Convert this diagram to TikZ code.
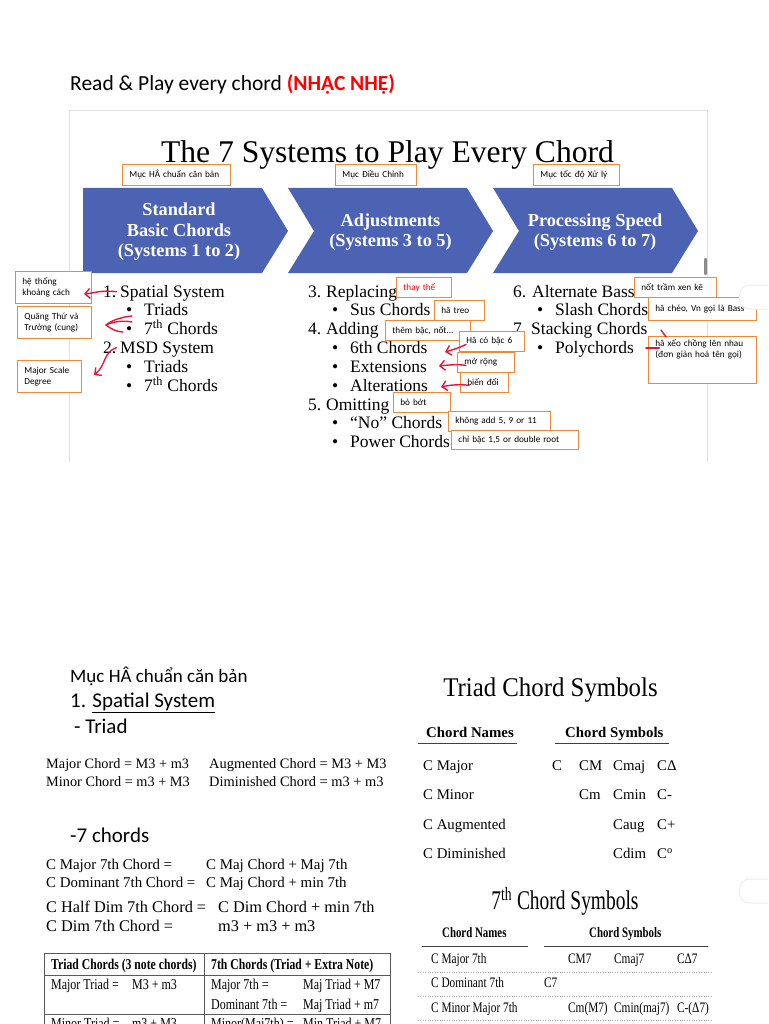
\documentclass[tikz,border=0pt]{standalone}
\usepackage{fontspec}
\setmainfont{Liberation Serif}
\newfontfamily\noteface{Carlito}
\usetikzlibrary{arrows.meta}
\definecolor{chevronblue}{HTML}{4C62B2}
\definecolor{noteorange}{HTML}{F0883A}
\definecolor{penred}{HTML}{E8173A}
\tikzset{
    chevron/.style={fill=chevronblue},
    chevrontext/.style={font=\bfseries\fontsize{18.3}{20.5}\selectfont, text=white, align=center, inner sep=0pt},
    notebox/.style 2 args={draw=noteorange, fill=white, line width=0.8pt, anchor=north west,
        minimum width=#1pt, minimum height=#2pt, text width=#1pt-14pt, inner xsep=7pt, inner ysep=0pt,
        align=left, font=\noteface\fontsize{9.2}{11.5}\selectfont},
    heading/.style={font=\noteface\fontsize{#1}{24}\selectfont, anchor=mid west, inner sep=0pt, yshift=-4pt},
    heading/.default=21,
    slideitem/.style={font=\fontsize{17.5}{20}\selectfont, anchor=mid west, inner sep=0pt, yshift=-4pt},
    formula/.style={font=\fontsize{#1}{17}\selectfont, anchor=mid west, inner sep=0pt, yshift=-3pt},
    cellbold/.style={font=\bfseries\fontsize{15}{17}\selectfont, anchor=mid west, inner sep=0pt, yshift=-2pt, xscale=.78, transform shape},
    cell/.style={font=\fontsize{15}{17}\selectfont, anchor=mid west, inner sep=0pt, yshift=-2pt, xscale=.8, transform shape},
    namebold/.style={font=\bfseries\fontsize{14.5}{17}\selectfont, anchor=mid west, inner sep=0pt, yshift=-2pt, xscale=.75, transform shape},
    namecell/.style={font=\fontsize{14.5}{17}\selectfont, anchor=mid west, inner sep=0pt, yshift=-2pt, xscale=.78, transform shape},
    symbolhead/.style={font=\bfseries\fontsize{14.8}{18}\selectfont, anchor=mid west, inner sep=0pt, yshift=-3pt},
    symbolcell/.style={font=\fontsize{14.8}{18}\selectfont, anchor=mid west, inner sep=0pt, yshift=-3pt},
    penarrow/.style={draw=penred, line width=1.4pt, line cap=round, -{Straight Barb[length=5pt,width=10pt]}},
    penline/.style={draw=penred, line width=1.4pt, line cap=round},
    pill/.style={draw=black!7, fill=white, rounded corners=10pt, line width=1pt}
}
\begin{document}
\begin{tikzpicture}[x=1pt,y=-1pt]
    \useasboundingbox (0,0) rectangle (768,1024);
    \clip (0,0) rectangle (768,1024);
    \fill[white] (0,0) rectangle (768,1024);
    \node[heading=21.5] (readplay) at (70,84) {Read \& Play every chord \textcolor{red}{\bfseries(NHẠC NHẸ)}};
    \draw[black!12, line width=0.8pt] (69,462) -- (69,110) -- (707,110) -- (707,462);
    \fill[black!45, rounded corners=1pt] (704,258) rectangle (707,275);
    \node[font=\fontsize{31.6}{36}\selectfont, inner sep=0pt, yshift=-4pt] (slidetitle) at (387.5,151) {The 7 Systems to Play Every Chord};
    \fill[chevron] (83,188) -- (262,188) -- (288,231) -- (262,273) -- (83,273) -- cycle;
    \fill[chevron] (288,188) -- (467,188) -- (493,231) -- (467,273) -- (288,273) -- (314,231) -- cycle;
    \fill[chevron] (493,188) -- (672,188) -- (698,231) -- (672,273) -- (493,273) -- (519,231) -- cycle;
    \node[chevrontext] (standard) at (179,232) {Standard\\Basic Chords\\(Systems 1 to 2)};
    \node[chevrontext] (adjust) at (390.5,232) {Adjustments\\(Systems 3 to 5)};
    \node[chevrontext] (speed) at (595,232) {Processing Speed\\(Systems 6 to 7)};
    \begin{scope}[xshift=0pt]
        \node[slideitem] (numa) at (103,291) {1.};
        \node[slideitem] (spatial) at (120,291) {Spatial System};
        \node[slideitem] (dota) at (126,309) {•};
        \node[slideitem] (triadsa) at (144,309) {Triads};
        \node[slideitem] (dotb) at (126,328) {•};
        \node[slideitem] (sevena) at (144,328) {7\textsuperscript{th} Chords};
        \node[slideitem] (numb) at (103,347) {2.};
        \node[slideitem] (msd) at (120,347) {MSD System};
        \node[slideitem] (dotc) at (126,366) {•};
        \node[slideitem] (triadsb) at (144,366) {Triads};
        \node[slideitem] (dotd) at (126,385) {•};
        \node[slideitem] (sevenb) at (144,385) {7\textsuperscript{th} Chords};
    \end{scope}
    \begin{scope}[xshift=0pt]
        \node[slideitem] (numc) at (308,291) {3.};
        \node[slideitem] (replacing) at (326,291) {Replacing};
        \node[slideitem] (dote) at (332,309) {•};
        \node[slideitem] (sus) at (350,309) {Sus Chords};
        \node[slideitem] (numd) at (308,328) {4.};
        \node[slideitem] (adding) at (326,328) {Adding};
        \node[slideitem] (dotf) at (332,347) {•};
        \node[slideitem] (sixth) at (350,347) {6th Chords};
        \node[slideitem] (dotg) at (332,366) {•};
        \node[slideitem] (extensions) at (350,366) {Extensions};
        \node[slideitem] (doth) at (332,385) {•};
        \node[slideitem] (alterations) at (350,385) {Alterations};
        \node[slideitem] (nume) at (308,404) {5.};
        \node[slideitem] (omitting) at (326,404) {Omitting};
        \node[slideitem] (doti) at (332,422) {•};
        \node[slideitem] (nochords) at (350,422) {“No” Chords};
        \node[slideitem] (dotj) at (332,441) {•};
        \node[slideitem] (power) at (350,441) {Power Chords};
    \end{scope}
    \begin{scope}[xshift=0pt]
        \node[slideitem] (numf) at (513,291) {6.};
        \node[slideitem] (alternate) at (532,291) {Alternate Bass};
        \node[slideitem] (dotk) at (537,309) {•};
        \node[slideitem] (slash) at (555,309) {Slash Chords};
        \node[slideitem] (numg) at (513,328) {7.};
        \node[slideitem] (stacking) at (531,328) {Stacking Chords};
        \node[slideitem] (dotl) at (537,347) {•};
        \node[slideitem] (poly) at (555,347) {Polychords};
    \end{scope}
    \node[notebox={108}{21}] (mucha) at (122,164) {Mục HÂ chuẩn căn bản};
    \node[notebox={81}{21}] (mucdieu) at (335,164) {Mục Điều Chỉnh};
    \node[notebox={86}{21}] (muctoc) at (533,164) {Mục tốc độ Xử lý};
    \node[notebox={76}{32}] (hethong) at (15,271) {hệ thống\\khoảng cách};
    \node[notebox={74}{32}] (quang) at (17,306) {Quãng Thứ và\\Trưởng (cung)};
    \node[notebox={64}{32}] (major) at (17,360) {Major Scale\\Degree};
    \node[notebox={55}{20}, text=red] (thay) at (396,277) {thay thế};
    \node[notebox={50}{20}] (treo) at (434,300) {hâ treo};
    \node[notebox={85}{20}] (thembac) at (385,320) {thêm bậc, nốt...};
    \node[notebox={65}{20}] (cobac) at (459,331) {Hâ có bậc 6};
    \node[notebox={57}{20}] (morong) at (457,352) {mở rộng};
    \node[notebox={48}{20}] (biendoi) at (460,372) {biến đổi};
    \node[notebox={57}{20}] (bobot) at (393,392) {bỏ bớt};
    \node[notebox={102}{20}] (khongadd) at (448,411) {không add 5, 9 or 11};
    \node[notebox={127}{19}] (chibac) at (451,430) {chỉ bậc 1,5 or double root};
    \node[notebox={82}{20}] (nottram) at (634,277) {nốt trầm xen kẽ};
    \node[notebox={108}{23}] (hacheo) at (648,297) {hâ chéo, Vn gọi là Bass};
    \node[notebox={108}{47}] (haxeo) at (648,336) {hâ xếo chồng lên nhau\\(đơn giản hoá tên gọi)\\~\\~};
    \coordinate (tipa) at (84,294);
    \coordinate (tipb) at (106,325);
    \coordinate (tipc) at (94,375);
    \coordinate (tipd) at (445,352);
    \coordinate (tipe) at (439,366);
    \coordinate (tipf) at (441,387);
    \draw[penarrow] (numa.east) .. controls (100,290) and (95,293) .. (tipa);
    \draw[penline] (132,316) .. controls (122,317) and (112,320) .. (tipb);
    \draw[penline] (132,322) .. controls (122,320) and (112,322) .. (tipb);
    \draw[penline] (tipb) .. controls (111,329) and (117,332) .. (123,332);
    \draw[penarrow] (numb.east) .. controls (103,352) and (106,366) .. (tipc);
    \draw[penarrow] ([shift={(7,3)}]cobac.west) .. controls (459,348) and (452,350) .. (tipd);
    \draw[penarrow] ([shift={(9,3)}]morong.west) .. controls (458,364) and (448,365) .. (tipe);
    \draw[penarrow] ([shift={(9,3)}]biendoi.west) .. controls (460,384) and (450,385) .. (tipf);
    \draw[penline, line width=2pt] (646,348) -- (659,348);
    \draw[penline] (661,330) -- (666,337);
    \node[pill, minimum width=40pt, minimum height=24pt, anchor=west, inner sep=0pt] (pilla) at (739,297) {};
    \node[pill, minimum width=40pt, minimum height=24pt, anchor=west, inner sep=0pt] (pillb) at (739,891) {};
    \node[heading=19] (muchead) at (70,676) {Mục HÂ chuẩn căn bản};
    \node[heading] (spatialhead) at (70,701) {1. \underline{Spatial System}};
    \node[heading] (triadhead) at (74,727) {- Triad};
    \node[heading] (sevenhead) at (70,836) {-7 chords};
    \node[formula=14.3] (majorchord) at (46,763) {Major Chord = M3 + m3};
    \node[formula=14.3] (minorchord) at (46,781) {Minor Chord = m3 + M3};
    \node[formula=14.4] (augchord) at (209,763) {Augmented Chord = M3 + M3};
    \node[formula=14.4] (dimchord) at (209,781) {Diminished Chord = m3 + m3};
    \node[formula=14.9] (cmajor) at (46,864) {C Major 7th Chord =};
    \node[formula=14.9] (cmajorval) at (206,864) {C Maj Chord + Maj 7th};
    \node[formula=14.9] (cdom) at (46,882) {C Dominant 7th Chord =};
    \node[formula=14.9] (cdomval) at (206,882) {C Maj Chord + min 7th};
    \node[formula=16.3] (chalf) at (46,907) {C Half Dim 7th Chord =};
    \node[formula=16.3] (chalfval) at (218,907) {C Dim Chord + min 7th};
    \node[formula=16.3] (cdim) at (46,926) {C Dim 7th Chord =};
    \node[formula=16.3] (cdimval) at (218,926) {m3 + m3 + m3};
    \draw[black!65, line width=0.9pt] (44,953) rectangle (390,1034);
    \draw[black!65, line width=0.9pt] (44,975) -- (390,975);
    \draw[black!65, line width=0.9pt] (44,1014) -- (390,1014);
    \draw[black!65, line width=0.9pt] (204,953) -- (204,1034);
    \node[cellbold] (triadcol) at (51,965) {Triad Chords (3 note chords)};
    \node[cellbold] (sevencol) at (211,965) {7th Chords (Triad + Extra Note)};
    \node[cell] (majortriad) at (51,985) {Major Triad =};
    \node[cell] (majortriadval) at (132,985) {M3 + m3};
    \node[cell] (majorseven) at (211,985) {Major 7th =};
    \node[cell] (majorsevenval) at (303,985) {Maj Triad + M7};
    \node[cell] (domseven) at (211,1005) {Dominant 7th =};
    \node[cell] (domsevenval) at (303,1005) {Maj Triad + m7};
    \node[cell] (minortriad) at (51,1024) {Minor Triad =};
    \node[cell] (minortriadval) at (132,1024) {m3 + M3};
    \node[cell] (minorseven) at (211,1024) {Minor(Maj7th) =};
    \node[cell] (minorsevenval) at (303,1024) {Min Triad + M7};
    \node[font=\fontsize{27}{30}\selectfont, inner sep=0pt, yshift=-3pt, xscale=.92, transform shape] (triadtitle) at (550.5,687) {Triad Chord Symbols};
    \node[symbolhead] (namesa) at (426,732) {Chord Names};
    \node[symbolhead] (symbolsa) at (565,732) {Chord Symbols};
    \draw[black!75, line width=0.8pt] (418,743) -- (517,743);
    \draw[black!75, line width=0.8pt] (555,743) -- (669,743);
    \node[symbolcell] (cmajname) at (423,765) {C Major};
    \node[symbolcell] (cplain) at (552,765) {C};
    \node[symbolcell] (ccm) at (579,765) {CM};
    \node[symbolcell] (ccmaj) at (613,765) {Cmaj};
    \node[symbolcell] (cdelta) at (657,765) {CΔ};
    \node[symbolcell] (cminname) at (423,794) {C Minor};
    \node[symbolcell] (ccmin) at (579,794) {Cm};
    \node[symbolcell] (ccminb) at (613,794) {Cmin};
    \node[symbolcell] (cdash) at (657,794) {C-};
    \node[symbolcell] (caugname) at (423,824) {C Augmented};
    \node[symbolcell] (ccaug) at (613,824) {Caug};
    \node[symbolcell] (cplus) at (657,824) {C+};
    \node[symbolcell] (cdimname) at (423,853) {C Diminished};
    \node[symbolcell] (ccdim) at (613,853) {Cdim};
    \node[symbolcell] (cdeg) at (657,853) {C\textsuperscript{o}};
    \node[font=\fontsize{27}{30}\selectfont, inner sep=0pt, yshift=-2pt, xscale=.72, transform shape] (seventitle) at (565,899) {7\textsuperscript{th} Chord Symbols};
    \node[namebold] (namesb) at (442,933) {Chord Names};
    \node[namebold] (symbolsb) at (589,933) {Chord Symbols};
    \draw[black!75, line width=0.8pt] (422,946) -- (528,946);
    \draw[black!75, line width=0.8pt] (544,946) -- (708,946);
    \draw[black!30, dotted] (418,972) -- (712,972);
    \draw[black!30, dotted] (418,996) -- (712,996);
    \draw[black!30, dotted] (418,1020) -- (712,1020);
    \node[namecell] (majsevenname) at (431,959) {C Major 7th};
    \node[namecell] (cmseven) at (568,959) {CM7};
    \node[namecell] (cmajseven) at (614,959) {Cmaj7};
    \node[namecell] (cdeltaseven) at (677,959) {CΔ7};
    \node[namecell] (domsevenname) at (431,983) {C Dominant 7th};
    \node[namecell] (cseven) at (544,983) {C7};
    \node[namecell] (minmajname) at (431,1008) {C Minor Major 7th};
    \node[namecell] (cmmseven) at (568,1008) {Cm(M7)};
    \node[namecell] (cminmaj) at (614,1008) {Cmin(maj7)};
    \node[namecell] (cdashdelta) at (677,1008) {C-(Δ7)};
\end{tikzpicture}
\end{document}
